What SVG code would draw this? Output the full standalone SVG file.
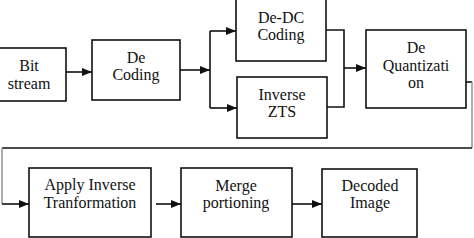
<svg xmlns="http://www.w3.org/2000/svg" width="474" height="238" viewBox="0 0 474 238">
<style>
.box{fill:#fff;stroke:#111;stroke-width:1.6}
.lbl{font-family:"Liberation Serif",serif;font-size:16px;fill:#111;text-anchor:middle}
.c{fill:none;stroke:#111;stroke-width:1.6}
.g{fill:none;stroke:#999;stroke-width:1.6}
</style>
<defs>
<marker id="ah" markerWidth="10" markerHeight="8" refX="10" refY="4" orient="auto" markerUnits="userSpaceOnUse">
<path d="M0,0 L10,4 L0,8 Z" fill="#111"/>
</marker>
</defs>
<rect width="474" height="238" fill="#fff"/>
<g id="connectors">
<path class="c" d="M66,72 H92" marker-end="url(#ah)"/>
<path class="c" d="M180,70 H210" marker-end="url(#ah)"/>
<path class="c" d="M210,31 V108"/>
<path class="c" d="M210,31 H236" marker-end="url(#ah)"/>
<path class="c" d="M210,108 H237" marker-end="url(#ah)"/>
<path class="c" d="M326,30 H344 V107 H327"/>
<path class="c" d="M344,68 H366" marker-end="url(#ah)"/>
<path class="c" d="M466,82 H472"/>
<path class="g" d="M472,82 V148"/>
<path class="c" d="M472,148 H2"/>
<path class="g" d="M2,148 V204"/>
<path class="c" d="M2,204 H29" marker-end="url(#ah)"/>
<path class="c" d="M156,204 H181" marker-end="url(#ah)"/>
<path class="c" d="M292,204 H322" marker-end="url(#ah)"/>
</g>
<g id="bitstream">
<rect class="box" x="-2" y="48" width="68" height="53"/>
<text class="lbl" x="29" y="71">Bit</text>
<text class="lbl" x="29" y="89">stream</text>
</g>
<g id="decoding">
<rect class="box" x="92" y="40" width="88" height="60"/>
<text class="lbl" x="136" y="63">De</text>
<text class="lbl" x="136" y="80">Coding</text>
</g>
<g id="dedc">
<rect class="box" x="236" y="-2" width="90" height="63"/>
<text class="lbl" x="281" y="23">De-DC</text>
<text class="lbl" x="281" y="40">Coding</text>
</g>
<g id="inversezts">
<rect class="box" x="237" y="77" width="90" height="61"/>
<text class="lbl" x="282" y="100">Inverse</text>
<text class="lbl" x="282" y="117">ZTS</text>
</g>
<g id="dequant">
<rect class="box" x="366" y="30" width="100" height="78"/>
<text class="lbl" x="416" y="53">De</text>
<text class="lbl" x="416" y="71">Quantizati</text>
<text class="lbl" x="416" y="88">on</text>
</g>
<g id="applyinverse">
<rect class="box" x="29" y="168" width="122" height="69"/>
<text class="lbl" x="90" y="190">Apply Inverse</text>
<text class="lbl" x="90" y="208">Tranformation</text>
</g>
<g id="merge">
<rect class="box" x="181" y="168" width="111" height="69"/>
<text class="lbl" x="236" y="191">Merge</text>
<text class="lbl" x="236" y="208">portioning</text>
</g>
<g id="decoded">
<rect class="box" x="322" y="169" width="95" height="68"/>
<text class="lbl" x="370" y="191">Decoded</text>
<text class="lbl" x="370" y="208">Image</text>
</g>
</svg>
